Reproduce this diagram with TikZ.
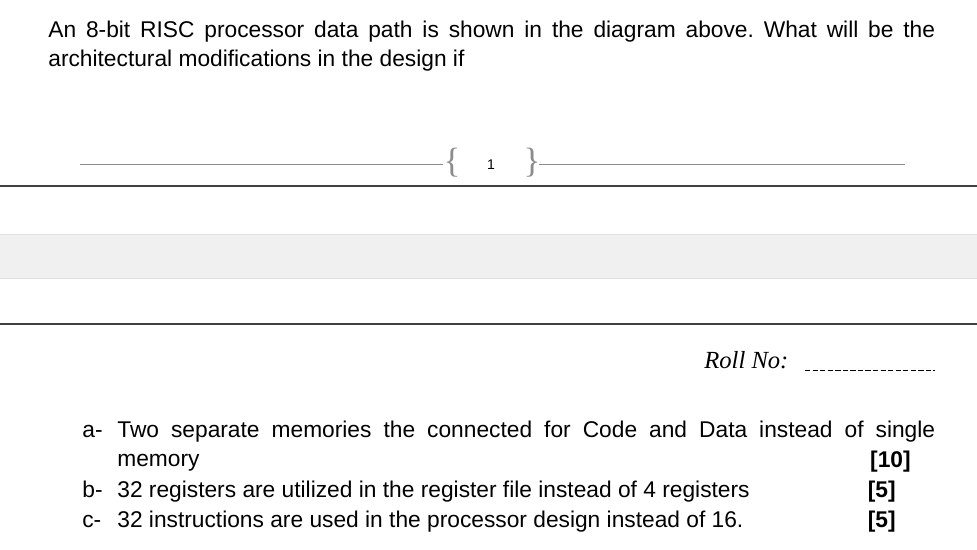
\documentclass[tikz,border=0pt]{standalone}
\usepackage{fontspec}
\setmainfont{Liberation Sans}
\newfontfamily\serifit{Liberation Serif}
\frenchspacing
\begin{document}
\begin{tikzpicture}[x=0.02cm,y=-0.02cm,
  txt/.style={anchor=base west,inner sep=0,font=\fontsize{12.95}{17}\selectfont},
  rule/.style={line width=0.6pt,draw=black!75}]
\useasboundingbox (0,0) rectangle (977,549);
\fill[white] (0,0) rectangle (977,549);
\node[txt] (intro) at (48,37) {\parbox[t]{17.74cm}{\fontsize{12.95}{17}\selectfont\frenchspacing An 8-bit RISC processor data path is shown in the diagram above. What will be the\linebreak architectural modifications in the design if}};
\draw[draw=black!45,line width=0.4pt] (80,164) -- (443,164);
\draw[draw=black!45,line width=0.4pt] (539,164) -- (905,164);
\node[font=\fontsize{20}{20}\selectfont\serifit,text=black!45] (lb) at (452,163) {\{};
\node[font=\fontsize{20}{20}\selectfont\serifit,text=black!45] (rb) at (532,163) {\}};
\node[font=\fontsize{8}{8}\selectfont] (pg) at (491,165) {1};
\draw[rule] (0,186) -- (977,186);
\fill[black!6] (0,234) rectangle (977,278);
\draw[draw=black!12] (0,234) -- (977,234) (0,278) -- (977,278);
\draw[rule] (0,324) -- (977,324);
\node[txt] (roll) at (704,368) {\serifit\itshape\fontsize{14}{14}\selectfont Roll No:};
\draw[dashed,dash pattern=on 3pt off 1.3pt,line width=0.5pt] (805,370) -- (935,370);
\node[txt] (la) at (82,437) {a-};
\node[txt] (ta) at (117,437) {\parbox[t]{16.36cm}{\fontsize{12.95}{17}\selectfont Two separate memories the connected for Code and Data instead of single\linebreak memory}};
\node[txt,anchor=base east] (ma) at (911,467) {\bfseries [10]};
\node[txt] (lb2) at (82,497) {b-};
\node[txt] (tb) at (117,497) {32 registers are utilized in the register file instead of 4 registers};
\node[txt,anchor=base east] (mb) at (896,497) {\bfseries [5]};
\node[txt] (lc) at (82,527) {c-};
\node[txt] (tc) at (117,527) {32 instructions are used in the processor design instead of 16.};
\node[txt,anchor=base east] (mc) at (896,527) {\bfseries [5]};
\end{tikzpicture}
\end{document}
